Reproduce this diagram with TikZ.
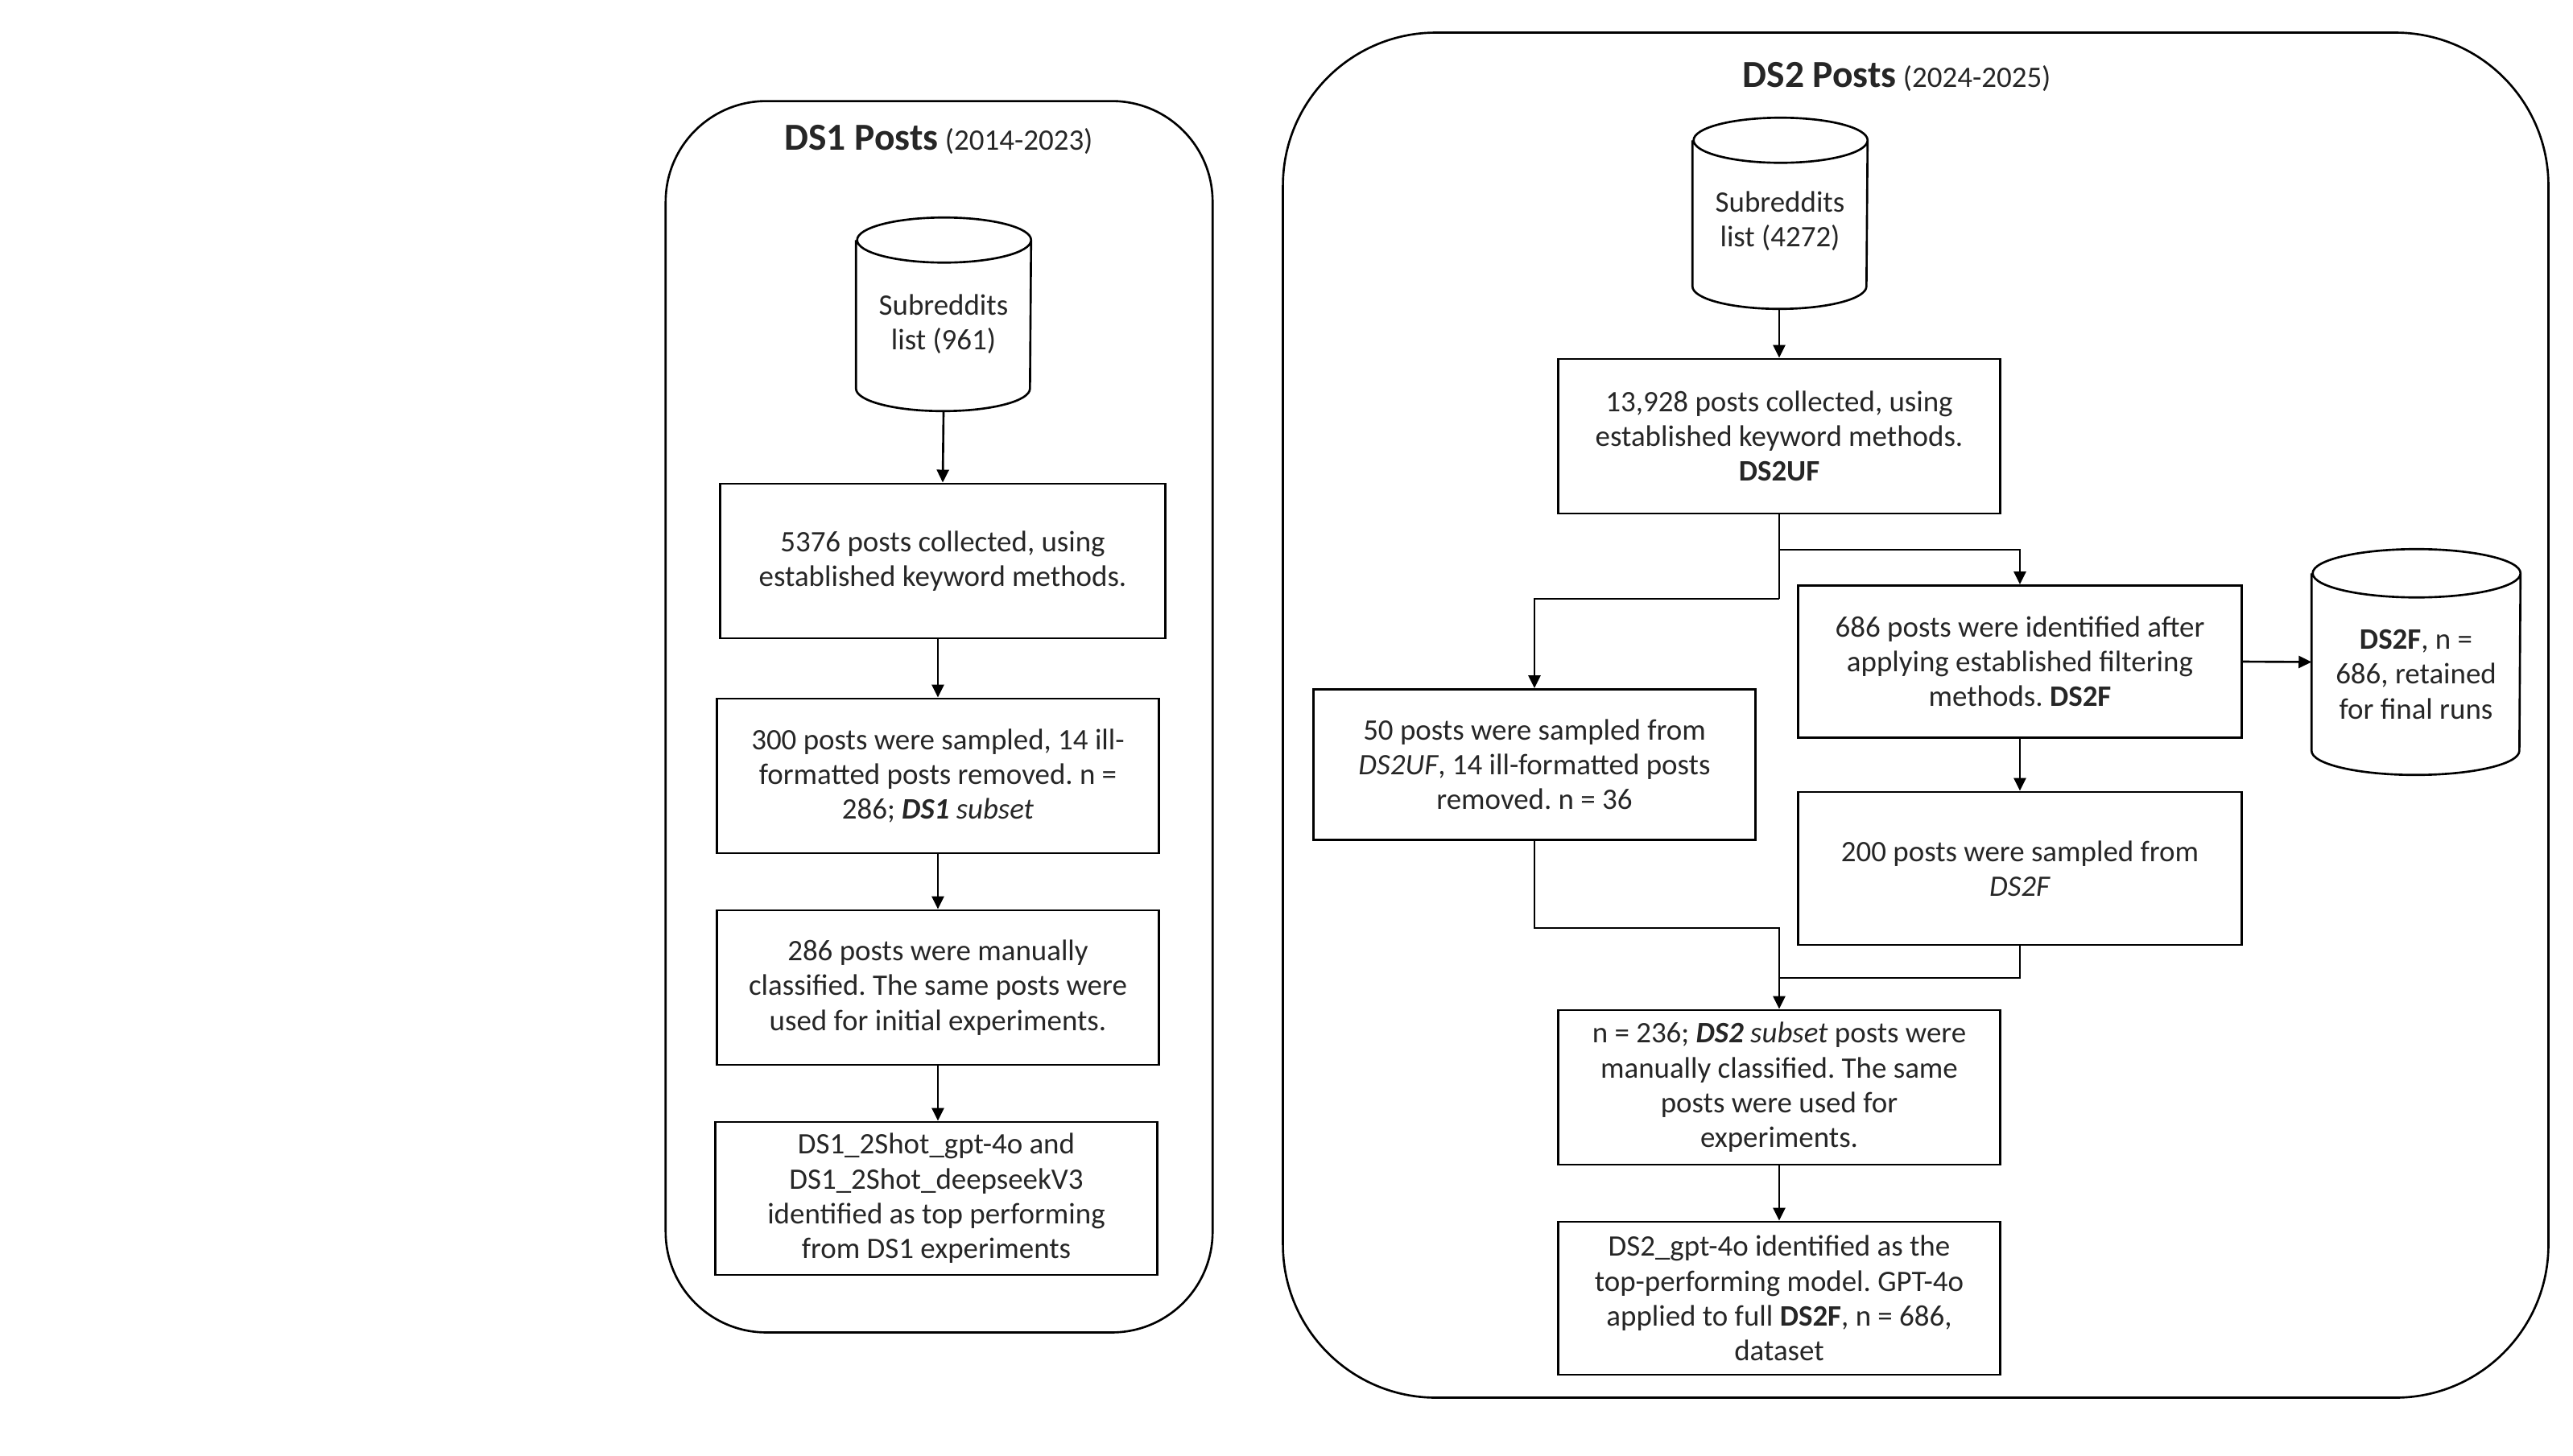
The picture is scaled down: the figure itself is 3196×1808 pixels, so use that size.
\documentclass[tikz,border=0pt]{standalone}
\usepackage{fontspec}
\setmainfont{Carlito}
\usetikzlibrary{arrows.meta}
\frenchspacing
\newcommand\drawcyl[3]{%
\draw[ln] ([yshift=-#3]#1.north west) -- ([yshift=#3]#1.south west)
  arc[start angle=180,end angle=360,x radius=#2,y radius=#3]
  -- ([yshift=-#3]#1.north east)
  arc[start angle=0,end angle=360,x radius=#2,y radius=#3];}
\begin{document}
\begin{tikzpicture}[x=0.01cm,y=-0.01cm,
  txt/.style={font=\fontsize{10.5}{12.3}\selectfont, text=black!85},
  box/.style={txt, draw, line width=0.8pt, minimum width=5.48cm, minimum height=1.92cm, align=center, inner sep=2pt},
  cont/.style={draw, line width=0.75pt},
  ln/.style={line width=0.75pt},
  arr/.style={ln, -{Triangle[length=1.6mm,width=1.5mm]}},
  ctext/.style={txt, align=center},
  cylbody/.style={inner sep=0pt, minimum width=2.16cm}]
\useasboundingbox (0,0) rectangle (3196,1808);
% containers
\node[cont, rounded corners=1.25cm, minimum width=6.79cm, minimum height=15.29cm] (ds1) at (1166.5,890.5) {};
\node[cont, rounded corners=1.9cm, minimum width=15.71cm, minimum height=16.95cm] (ds2) at (2379.5,888.5) {};
% titles
\node[txt] (t1) at (1166,173) {{\fontsize{13.5}{16}\selectfont\bfseries DS1 Posts} (2014-2023)};
\node[txt] (t2) at (2356,95) {{\fontsize{13.5}{16}\selectfont\bfseries DS2 Posts} (2024-2025)};
% DS1 column
\node[cylbody, minimum height=2.39cm] (cyl1) at (1172,390.5) {};
\drawcyl{cyl1}{1.08cm}{0.28cm}
\node[ctext] (cyl1t) at (1172,403) {Subreddits\\list (961)};
\node[box, minimum width=5.52cm] (a1) at (1171,697) {5376 posts collected, using\\established keyword methods.};
\node[box] (a2) at (1165,964) {300 posts were sampled, 14 ill-\\formatted posts removed. n =\\286; \textbf{\textit{DS1}} \textit{subset}};
\node[box] (a3) at (1165,1227) {286 posts were manually\\classified. The same posts were\\used for initial experiments.};
\node[box, minimum height=1.90cm] (a4) at (1163,1489) {DS1\_2Shot\_gpt-4o and\\DS1\_2Shot\_deepseekV3\\identified as top performing\\from DS1 experiments};
\draw[arr] (cyl1.south) -- (a1.north);
\draw[arr] (a1.south -| a2.north) -- (a2.north);
\draw[arr] (a2.south) -- (a3.north);
\draw[arr] (a3.south) -- (a4.north -| a3.south);
% DS2 column
\node[cylbody, minimum height=2.36cm] (cyl2) at (2211,265) {};
\drawcyl{cyl2}{1.08cm}{0.28cm}
\node[ctext] (cyl2t) at (2211,275) {Subreddits\\list (4272)};
\node[box] (uf) at (2210,542) {13,928 posts collected, using\\established keyword methods.\\\textbf{DS2UF}};
\node[box, minimum width=5.50cm, minimum height=1.89cm] (b686) at (2509,822) {686 posts were identified after\\applying established filtering\\methods. \textbf{DS2F}};
\node[cylbody, minimum width=2.58cm, minimum height=2.79cm] (cyl3) at (3001,822.5) {};
\drawcyl{cyl3}{1.29cm}{0.30cm}
\node[ctext] (cyl3t) at (3001,838) {\textbf{DS2F}, n =\\686, retained\\for final runs};
\node[box, minimum width=5.49cm, minimum height=1.87cm] (b50) at (1906,950) {50 posts were sampled from\\\textit{DS2UF}, 14 ill-formatted posts\\removed. n = 36};
\node[box, minimum width=5.50cm, minimum height=1.90cm] (b200) at (2509,1079) {200 posts were sampled from\\\textit{DS2F}};
\node[box] (b236) at (2210,1351) {n = 236; \textbf{\textit{DS2}} \textit{subset} posts were\\manually classified. The same\\posts were used for\\experiments.};
\node[box, minimum height=1.90cm] (bg) at (2210,1613) {DS2\_gpt-4o identified as the\\top-performing model. GPT-4o\\applied to full \textbf{DS2F}, n = 686,\\dataset};
\coordinate (j1) at (2210,683);
\coordinate (j2) at (2210,744);
\coordinate (j3) at (2210,1153);
\coordinate (j4) at (2210,1215);
\draw[arr] (cyl2.south -| uf.north) -- (uf.north);
\draw[ln] (uf.south) -- (j2);
\draw[arr] (j1) -| (b686.north);
\draw[arr] (j2) -| (b50.north);
\draw[arr] (b686.east) -- (cyl3.west);
\draw[arr] (b686.south) -- (b200.north);
\draw[arr] (b50.south) |- (j3) -- (b236.north);
\draw[ln] (b200.south) |- (j4);
\draw[arr] (b236.south) -- (bg.north);
\end{tikzpicture}
\end{document}
